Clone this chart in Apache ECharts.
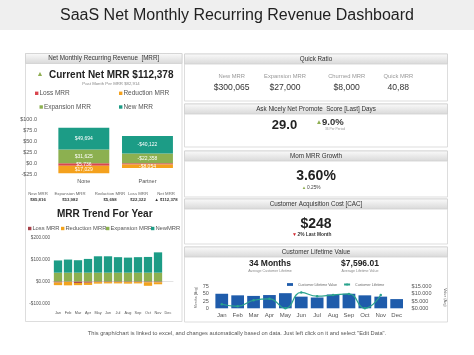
<!DOCTYPE html>
<html><head><meta charset="utf-8">
<script src="https://cdn.jsdelivr.net/npm/echarts/dist/echarts.min.js"></script>
<style>html,body{margin:0;padding:0;background:#fff}#c{width:474px;height:355px}</style>
</head><body><div id="c"></div>
<script>
const FONT = '"Liberation Sans", Arial, sans-serif';

// ---- Net MRR by category (values in $ thousands) ----
const mrrCategories = ['None', 'Partner'];
const mrrLoss = [-5.736, -2.5];
const mrrReduction = [-17.029, -8.054];
const mrrExpansion = [31.625, 22.358];
const mrrNew = [49.694, 40.122];
const mrrLabelPrefix = ['$', '-$'];
const mrrAxis = { min: -25, max: 100, interval: 25 };
const mrrNames = ['Loss MRR', 'Reduction MRR', 'Expansion MRR', 'New MRR'];
const mrrColors = ['#d9464e', '#f4a11d', '#8cb050', '#1c9c86'];

const summaryLabels = ['New MRR', 'Expansion MRR', 'Reduction MRR', 'Loss MRR', 'Net MRR'];
const summaryValues = ['$85,816', '$53,982', '$5,698', '$22,322', '$112,378'];

// ---- MRR trend for year (values in $ thousands) ----
const months = ['Jan','Feb','Mar','Apr','May','Jun','Jul','Aug','Sep','Oct','Nov','Dec'];
const trendLoss =      [-5, -2, -7, -6, -3, -3, -3, -3, -3, -4, -4, null];
const trendReduction = [-12, -16, -10, -10, -7, -6, -6, -7, -6, -16, -9, null];
const trendExpansion = [40, 40, 40, 40, 40, 40, 40, 40, 40, 40, 40, null];
const trendNew =       [56, 60, 57, 63, 75, 75, 71, 69, 71, 72, 93, null];
const trendAxis = { min: -100, max: 200, interval: 100 };
const trendNames = ['Loss MRR', 'Reduction MRR', 'Expansion MRR', 'NewMRR'];
const trendColors = ['#a8414a', '#f2a31c', '#8cb050', '#1c9c86'];

// ---- Customer lifetime value ----
const clvValue =    [10100, 9000, 8600, 9200, 10500, 8100, 7500, 9600, 10100, 9000, 8100, 6400];
const clvLifetime = [14, 7, 28, 33, 0, 55, 42, 46, 50, 0, 46, null];
const clvLeftAxis = { min: 0, max: 75, interval: 25 };
const clvRightAxis = { min: 0, max: 15000, interval: 5000 };

// ---- KPI texts ----
const quickLabels = ['New MRR', 'Expansion MRR', 'Churned MRR', 'Quick MRR'];
const quickValues = ['$300,065', '$27,000', '$8,000', '40,88'];

const G = [];
function txt(text, x, y, size, o) {
  o = o || {};
  G.push({ type: 'text', z: 10, silent: true, style: {
    text: text, x: x, y: y, fill: o.color || '#333',
    font: (o.bold ? 'bold ' : '') + size + 'px ' + FONT,
    align: o.align || 'center', verticalAlign: 'middle' } });
}
function rect(x, y, w, h, fill, stroke) {
  G.push({ type: 'rect', z: -10, silent: true, shape: { x: x, y: y, width: w, height: h },
    style: { fill: fill, stroke: stroke || null, lineWidth: stroke ? 0.8 : 0 } });
}
function header(x, y, w, title) {
  rect(x, y, w, 10, new echarts.graphic.LinearGradient(0, 0, 0, 1, [
    { offset: 0, color: '#fbfbfb' }, { offset: 1, color: '#d8d8d8' }]), '#d0d0d0');
  txt(title, x + w / 2, y + 5, 6.3, { color: '#333' });
}
function legendRow(names, colors, xs, y, size) {
  names.forEach(function (n, i) {
    G.push({ type: 'rect', z: 10, silent: true, shape: { x: xs[i], y: y - 1.7, width: 3.4, height: 3.4 }, style: { fill: colors[i] } });
    txt(n, xs[i] + 4.4, y, size, { color: '#555', align: 'left' });
  });
}

// top band & title
rect(0, 0, 474, 30, '#efefef');
txt('SaaS Net Monthly Recurring Revenue Dashboard', 237, 16, 16, { color: '#222' });

// left panel
rect(25.5, 53.5, 156.5, 268, '#fff', '#d4d4d4');
header(25.5, 53.5, 156.5, 'Net Monthly Recurring Revenue  [MRR]');
txt('\u25B2', 40, 74.5, 7, { color: '#8fae52' });
txt('Current Net MRR $112,378', 49, 75, 10, { bold: true, align: 'left', color: '#222' });
txt('Past Month Per MRR $82,914', 111, 83.5, 4.3, { color: '#888' });
legendRow([mrrNames[0], mrrNames[1]], [mrrColors[0], mrrColors[1]], [35, 119], 93.3, 6.5);
legendRow([mrrNames[2], mrrNames[3]], [mrrColors[2], mrrColors[3]], [39.5, 119], 107, 6.5);
const sumX = [38, 70, 110, 138, 166];
summaryLabels.forEach(function (l, i) {
  txt(l, sumX[i], 193.5, 4.3, { color: '#666' });
  txt((i === 4 ? '\u25B2 ' : '') + summaryValues[i], sumX[i], 199.8, 4.3, { bold: true, color: '#333' });
});
txt('MRR Trend For Year', 57, 214, 10, { bold: true, align: 'left', color: '#222' });
legendRow(trendNames, trendColors, [28, 61, 106, 151], 228.5, 5.8);

// right panels
const PX = 184.5, PW = 263;
[[54, 47, 'Quick Ratio'], [104, 43, 'Ask Nicely Net Promote  Score [Last] Days'], [151, 46, 'Mom MRR Growth'],
 [199, 45, 'Customer Acquisition Cost [CAC]'], [247, 75, 'Customer Lifetime Value']].forEach(function (p) {
  rect(PX, p[0], PW, p[1], '#fff', '#d4d4d4');
  header(PX, p[0], PW, p[2]);
});
const qx = [231.7, 285, 346.7, 398.3];
quickLabels.forEach(function (l, i) {
  txt(l, qx[i], 76.5, 5.8, { color: '#999' });
  txt(quickValues[i], qx[i], 87.5, 8.6, { color: '#333' });
});
txt('29.0', 284.5, 125.5, 13, { bold: true, color: '#222' });
txt('\u25B2', 319, 122.5, 6.5, { color: '#8fae52' });
txt('9.0%', 322, 122, 9.5, { bold: true, align: 'left', color: '#333' });
txt('36 Per Period', 335, 129.5, 3.3, { color: '#999' });
txt('3.60%', 316, 176.5, 14, { bold: true, color: '#222' });
txt('\u25B2', 304, 187.8, 4.5, { color: '#8fae52' });
txt('0.25%', 307, 187.8, 4.8, { align: 'left', color: '#444' });
txt('$248', 316, 224, 14, { bold: true, color: '#222' });
txt('\u25BC', 294.5, 235, 5, { color: '#d0232a' });
txt('2% Last Month', 297.5, 235, 4.8, { bold: true, align: 'left', color: '#333' });
txt('34 Months', 270, 264, 8.5, { bold: true, color: '#222' });
txt('Average Customer Lifetime', 270, 270.8, 3.6, { color: '#888' });
txt('$7,596.01', 360, 264, 8.5, { bold: true, color: '#222' });
txt('Average Lifetime Value', 360, 270.8, 3.6, { color: '#888' });

// footer
txt('This graph/chart is linked to excel, and changes automatically based on data. Just left click on it and select "Edit Data".', 237, 333, 5.7, { color: '#555' });

function fmtK(v) { return Math.round(Math.abs(v) * 1000).toLocaleString('en-US'); }
const axLbl = { fontFamily: FONT, color: '#555' };

function mrrSeries(name, data, color) {
  return { name: name, type: 'bar', stack: 'mrr', xAxisIndex: 0, yAxisIndex: 0, data: data,
    barCategoryGap: '20%', itemStyle: { color: color },
    label: { show: true, position: 'inside', fontSize: 5, color: '#fff', fontFamily: FONT,
      formatter: function (p) { return Math.abs(p.value) < 3 ? '' : mrrLabelPrefix[p.dataIndex] + fmtK(p.value); } } };
}
function trendSeries(name, data, color) {
  return { name: name, type: 'bar', stack: 'trend', xAxisIndex: 1, yAxisIndex: 1, data: data,
    barCategoryGap: '17%', itemStyle: { color: color } };
}

const option = {
  animation: false,
  textStyle: { fontFamily: FONT },
  graphic: G,
  legend: [{
    data: [{ name: 'Customer Lifetime Value', icon: 'rect' }, { name: 'Customer Lifetime' }],
    left: 282, top: 277.5, itemWidth: 6, itemHeight: 2.8, itemGap: 6,
    textStyle: { fontSize: 3.6, color: '#666', fontFamily: FONT }
  }],
  grid: [
    { left: 52, top: 119.7, width: 127.3, height: 54.5 },
    { left: 53, top: 237.7, width: 120, height: 65.6 },
    { left: 213.8, top: 286.7, width: 190.8, height: 21.6 }
  ],
  xAxis: [
    { gridIndex: 0, type: 'category', data: mrrCategories, axisLine: { show: false, onZero: false },
      axisTick: { show: false }, axisLabel: Object.assign({ fontSize: 5.5, margin: 4 }, axLbl) },
    { gridIndex: 1, type: 'category', data: months, axisLine: { onZero: true, lineStyle: { color: '#d0d0d0', width: 0.6 } },
      axisTick: { show: false }, axisLabel: Object.assign({ fontSize: 3.8, margin: 8 }, axLbl) },
    { gridIndex: 2, type: 'category', data: months, axisLine: { show: false },
      axisTick: { show: false }, axisLabel: Object.assign({ fontSize: 6, margin: 4.5, interval: 0 }, axLbl) }
  ],
  yAxis: [
    { gridIndex: 0, type: 'value', min: mrrAxis.min, max: mrrAxis.max, interval: mrrAxis.interval,
      splitLine: { show: false }, axisLine: { show: false }, axisTick: { show: false },
      axisLabel: Object.assign({ fontSize: 5.5, margin: 15, formatter: function (v) { return (v < 0 ? '-$' : '$') + Math.abs(v).toFixed(1); } }, axLbl) },
    { gridIndex: 1, type: 'value', min: trendAxis.min, max: trendAxis.max, interval: trendAxis.interval,
      splitLine: { show: false }, axisLine: { show: false }, axisTick: { show: false },
      axisLabel: Object.assign({ fontSize: 4.6, margin: 3, formatter: function (v) { return (v < 0 ? '-$' : '$') + Math.abs(v) + '.000'; } }, axLbl) },
    { gridIndex: 2, type: 'value', position: 'left', min: clvLeftAxis.min, max: clvLeftAxis.max, interval: clvLeftAxis.interval,
      splitLine: { show: false }, axisLine: { show: false }, axisTick: { show: false },
      name: 'Months (Avg)', nameLocation: 'middle', nameRotate: 90, nameGap: 16,
      nameTextStyle: { fontSize: 3.6, color: '#666', fontFamily: FONT },
      axisLabel: Object.assign({ fontSize: 5.5, margin: 5 }, axLbl) },
    { gridIndex: 2, type: 'value', position: 'right', min: clvRightAxis.min, max: clvRightAxis.max, interval: clvRightAxis.interval,
      splitLine: { show: false }, axisLine: { show: false }, axisTick: { show: false },
      name: 'Value (Avg)', nameLocation: 'middle', nameRotate: -90, nameGap: 38,
      nameTextStyle: { fontSize: 3.6, color: '#666', fontFamily: FONT },
      axisLabel: Object.assign({ fontSize: 5.5, margin: 7, formatter: function (v) { return '$' + (v / 1000) + '.000'; } }, axLbl) }
  ],
  series: [
    mrrSeries(mrrNames[0], mrrLoss, mrrColors[0]),
    mrrSeries(mrrNames[1], mrrReduction, mrrColors[1]),
    mrrSeries(mrrNames[2], mrrExpansion, mrrColors[2]),
    mrrSeries(mrrNames[3], mrrNew, mrrColors[3]),
    trendSeries('T ' + trendNames[0], trendLoss, trendColors[0]),
    trendSeries('T ' + trendNames[1], trendReduction, trendColors[1]),
    trendSeries('T ' + trendNames[2], trendExpansion, trendColors[2]),
    trendSeries('T ' + trendNames[3], trendNew, trendColors[3]),
    { name: 'Customer Lifetime Value', type: 'bar', xAxisIndex: 2, yAxisIndex: 3, data: clvValue,
      barCategoryGap: '20%', itemStyle: { color: '#1f5cab' } },
    { name: 'Customer Lifetime', type: 'line', xAxisIndex: 2, yAxisIndex: 2, data: clvLifetime,
      smooth: true, symbol: 'circle', symbolSize: 2.5, lineStyle: { color: '#2aa38d', width: 1.2 },
      itemStyle: { color: '#2aa38d' }, z: 5 }
  ]
};
echarts.init(document.getElementById('c')).setOption(option);
</script>
</body></html>
